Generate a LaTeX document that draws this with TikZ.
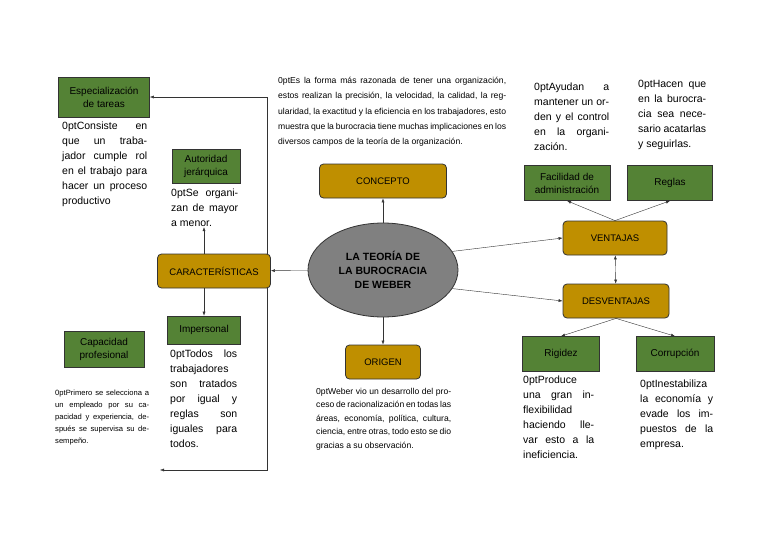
\documentclass[tikz,border=0pt]{standalone}
\usepackage{fontspec}
\setmainfont{Liberation Sans}
\usetikzlibrary{arrows.meta}
\usetikzlibrary{shapes.geometric}

\definecolor{oro}{HTML}{BF8F00}
\definecolor{verde}{HTML}{548235}
\definecolor{gris}{HTML}{808080}

\tikzset{
  Caja/.style={draw=black!80, fill=oro, rounded corners=4pt, line width=0.8pt, minimum height=34pt, font=\fontsize{9.5}{11}\selectfont},
  Hoja/.style={draw=black!80, fill=verde, line width=0.6pt, minimum height=34pt, align=center, font=\fontsize{10}{13}\selectfont},
  Texto/.style={inner sep=0pt, anchor=north west, align=justify, font=\fontsize{10.5}{15}\selectfont\hyphenpenalty=10000\emergencystretch=20pt},
  Chico/.style={inner sep=0pt, anchor=north west, align=justify, font=\fontsize{8}{12.5}\selectfont\hyphenpenalty=10000\emergencystretch=20pt},
  Flecha/.style={-{Latex[length=4pt,width=3pt]}, black!80, line width=0.4pt}
}

\begin{document}
\begin{tikzpicture}[x=1pt,y=-1pt]
   \useasboundingbox[fill=white] (0,0) rectangle (768,543);
   % centro
   \node[ellipse, draw=black!80, fill=gris, line width=0.8pt, minimum width=150pt, minimum height=94pt, align=center,
         font=\fontsize{10.5}{14}\selectfont\bfseries] (teoria) at (383,270) {LA TEORÍA DE\\LA BUROCRACIA\\DE WEBER};
   \node[Caja, minimum width=127pt] (concepto) at (383,181) {CONCEPTO};
   \node[Caja, minimum width=75pt] (origen) at (383,362) {ORIGEN};
   \node[Caja, minimum width=113pt] (carac) at (214,271) {CARACTERÍSTICAS};
   \node[Caja, minimum width=104pt] (ventajas) at (615,238) {VENTAJAS};
   \node[Caja, minimum width=106pt] (desventajas) at (616,301) {DESVENTAJAS};
   % hojas
   \node[Hoja, minimum width=91pt, minimum height=40pt] (espec) at (104,97) {Especialización\\de tareas};
   \node[Hoja, minimum width=68pt] (autoridad) at (206,166) {Autoridad\\jerárquica};
   \node[Hoja, minimum width=73pt, minimum height=28pt] (impersonal) at (204,330) {Impersonal};
   \node[Hoja, minimum width=80pt, minimum height=36pt] (capacidad) at (104,349) {Capacidad\\profesional};
   \node[Hoja, minimum width=86pt, minimum height=35pt] (facilidad) at (567,183) {Facilidad de\\administración};
   \node[Hoja, minimum width=85pt, minimum height=35pt] (reglas) at (670,183) {Reglas};
   \node[Hoja, minimum width=77pt, minimum height=35pt] (rigidez) at (561,354) {Rigidez};
   \node[Hoja, minimum width=78pt, minimum height=35pt] (corrupcion) at (675,354) {Corrupción};
   % textos
   \node[Texto, text width=85pt] (tEspec) at (62,122) {Consiste en que un trabajador cumple rol en el trabajo para hacer un proceso productivo};
   \node[Texto, text width=67pt] (tAutoridad) at (171,189) {Se organizan de mayor a menor.};
   \node[Texto, text width=67pt] (tImpersonal) at (170,350) {Todos los trabajadores son tratados por igual y reglas son iguales para todos.};
   \node[Chico, text width=94pt, font=\fontsize{7.6}{12}\selectfont\hyphenpenalty=10000\emergencystretch=20pt] (tCapacidad) at (55,390) {Primero se selecciona a un empleado por su capacidad y experiencia, después se supervisa su desempeño.};
   \node[Chico, text width=228pt, font=\fontsize{8.6}{15.3}\selectfont\hyphenpenalty=10000] (tConcepto) at (278,77) {Es la forma más razonada de tener una organización, estos realizan la precisión, la velocidad, la calidad, la regularidad, la exactitud y la eficiencia en los trabajadores, esto muestra que la burocracia tiene muchas implicaciones en los diversos campos de la teoría de la organización.};
   \node[Chico, text width=135pt, font=\fontsize{8.6}{13.5}\selectfont\hyphenpenalty=10000] (tOrigen) at (316,388) {Weber vio un desarrollo del proceso de racionalización en todas las áreas, economía, política, cultura, ciencia, entre otras, todo esto se dio gracias a su observación.};
   \node[Texto, text width=75pt] (tVentajas) at (534,83) {Ayudan a mantener un orden y el control en la organización.};
   \node[Texto, text width=68pt] (tReglas) at (638,80) {Hacen que en la burocracia sea necesario acatarlas y seguirlas.};
   \node[Texto, text width=71pt] (tRigidez) at (523,376) {Produce una gran inflexibilidad haciendo llevar esto a la ineficiencia.};
   \node[Texto, text width=73pt] (tCorrupcion) at (640,380) {Inestabiliza la economía y evade los impuestos de la empresa.};
   \coordinate (arriba) at (267,97);
   \coordinate (abajo) at (267,470);
   \coordinate (fin) at (160,470);
   % conectores
   \draw[Flecha] (teoria) -- (concepto);
   \draw[Flecha] (teoria) -- (carac);
   \draw[Flecha] (teoria) -- (origen);
   \draw[Flecha] (teoria.15) -- (ventajas.west);
   \draw[Flecha] (teoria.-15) -- (desventajas.west);
   \draw[Flecha] (carac.north -| impersonal.north) -- (tAutoridad.south -| impersonal.north);
   \draw[Flecha] (carac.south -| impersonal.north) -- (impersonal.north);
   \draw[Flecha] (carac.north east -| arriba) -- (arriba) -- (espec.east);
   \draw[Flecha] (carac.south east -| abajo) -- (abajo) -- (fin);
   \draw[Flecha, {Latex[length=4pt,width=3pt]}-{Latex[length=4pt,width=3pt]}] (ventajas) -- (desventajas);
   \draw[Flecha] (ventajas.north) -- (facilidad.south);
   \draw[Flecha] (ventajas.north) -- (reglas.south);
   \draw[Flecha] (desventajas.south) -- (rigidez.north);
   \draw[Flecha] (desventajas.south) -- (corrupcion.north);
\end{tikzpicture}
\end{document}
